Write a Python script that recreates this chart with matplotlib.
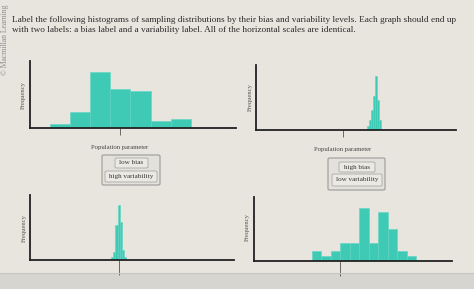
import matplotlib.pyplot as plt
from matplotlib.patches import FancyBboxPatch, Rectangle
import numpy as np

# ---- data (horizontal scale is shared by all four panels: 0..100) ----
POP = 43.5   # population parameter

tl_bins = [9.5, 19.3, 29.1, 38.9, 48.7, 58.5, 68.3, 78.1]
tl_counts = [6, 24, 84, 58, 55, 10, 14]

tr_bins = [55.5, 56.5, 57.5, 58.5, 59.5, 60.5, 61.5, 62.5]
tr_counts = [6, 15, 31, 52, 83, 46, 15]

bl_bins = [39.6, 40.7, 41.8, 42.9, 44.0, 45.1, 46.2, 47.3]
bl_counts = [5, 12, 54, 85, 58, 15, 5]

br_bins = [29.1, 33.9, 38.7, 43.5, 48.3, 53.1, 57.9, 62.7, 67.5, 72.3, 77.1, 81.9]
br_counts = [16, 8, 16, 28, 28, 83, 28, 77, 50, 16, 8]

title = ("Label the following histograms of sampling distributions by their bias and variability levels. Each graph should end up\n"
         "with two labels: a bias label and a variability label. All of the horizontal scales are identical.")
chips_tl = ['low bias', 'high variability']
chips_tr = ['high bias', 'low variability']

# ---- layout helpers (pixel boxes of the 474x289 picture) ----
W, H = 474, 289
BG = '#e8e5de'
TEAL = '#3fcab6'
SERIF = 'Liberation Serif'

fig = plt.figure(figsize=(W / 100, H / 100), dpi=100, facecolor=BG)


def fx(px):
    return px / W


def fy(py):
    return 1 - py / H


def panel(x0, x1, ytop, ybase, bins, counts, ticklen, label):
    ax = fig.add_axes([fx(x0), fy(ybase), fx(x1 - x0), (ybase - ytop) / H])
    ax.set_facecolor('none')
    ax.bar(bins[:-1], counts, width=np.diff(bins), align='edge',
           color=TEAL, edgecolor='#5ed6c4', linewidth=0.4)
    ax.set_xlim(0, 100)
    ax.set_ylim(0, 100)
    for s in ['top', 'right']:
        ax.spines[s].set_visible(False)
    for s in ['left', 'bottom']:
        ax.spines[s].set_color('#222222')
        ax.spines[s].set_linewidth(1.3)
    ax.set_yticks([])
    ax.set_xticks([POP], [label])
    ax.tick_params(axis='x', length=ticklen, width=0.6, color='#555555',
                   labelsize=4.8, labelcolor='#444444', pad=7)
    for t in ax.get_xticklabels():
        t.set_fontfamily(SERIF)
    return ax


panel(30, 236, 61, 128, tl_bins, tl_counts, 5, 'Population parameter')
panel(256, 456, 65, 130, tr_bins, tr_counts, 5, 'Population parameter')
panel(30, 234, 195, 260, bl_bins, bl_counts, 11, '')
panel(254, 452, 197, 261, br_bins, br_counts, 11, '')

# frequency labels
for x, y in [(23, 95), (250, 97), (24, 228), (247, 227)]:
    fig.text(fx(x), fy(y), 'Frequency', rotation=90, ha='center', va='center',
             fontsize=4.8, color='#555555', family=SERIF)

# header text and copyright
fig.text(fx(12), fy(16), title, ha='left', va='top', fontsize=6.65,
         color='#2a2a2a', family=SERIF, linespacing=1.3)
fig.text(fx(5), fy(40), '\u00a9 Macmillan Learning', rotation=90, ha='center',
         va='center', fontsize=5.5, color='#8c8c8c', family=SERIF)


# answer chips
def box(x0, y0, x1, y1, fc, ec, lw):
    fig.patches.append(FancyBboxPatch((fx(x0), fy(y1)), fx(x1 - x0), (y1 - y0) / H,
                                      boxstyle='round,pad=0,rounding_size=0.004',
                                      transform=fig.transFigure, fc=fc, ec=ec, lw=lw))


def chip(x0, y0, x1, y1, text):
    box(x0, y0, x1, y1, '#ebe9e4', '#a8a8a8', 0.6)
    fig.text(fx((x0 + x1) / 2), fy((y0 + y1) / 2), text, ha='center', va='center',
             fontsize=5.1, color='#333333', family=SERIF)


box(102, 155, 160, 185, '#e3e1db', '#9a9a9a', 0.8)
chip(115, 158, 148, 168, chips_tl[0])
chip(105, 171, 157, 182, chips_tl[1])

box(328, 158, 385, 190, '#e3e1db', '#9a9a9a', 0.8)
chip(339, 162, 375, 172, chips_tr[0])
chip(332, 174, 382, 186, chips_tr[1])

# grey strip at the bottom of the screen
fig.patches.append(Rectangle((0, 0), 1, (H - 273) / H, transform=fig.transFigure,
                             fc='#d7d5cf', ec='none', zorder=-1))
fig.lines.append(plt.Line2D([0, 1], [fy(273), fy(273)], transform=fig.transFigure,
                            color='#c8c6c0', lw=0.8))

fig.savefig('out.png', dpi=100, facecolor=BG)
